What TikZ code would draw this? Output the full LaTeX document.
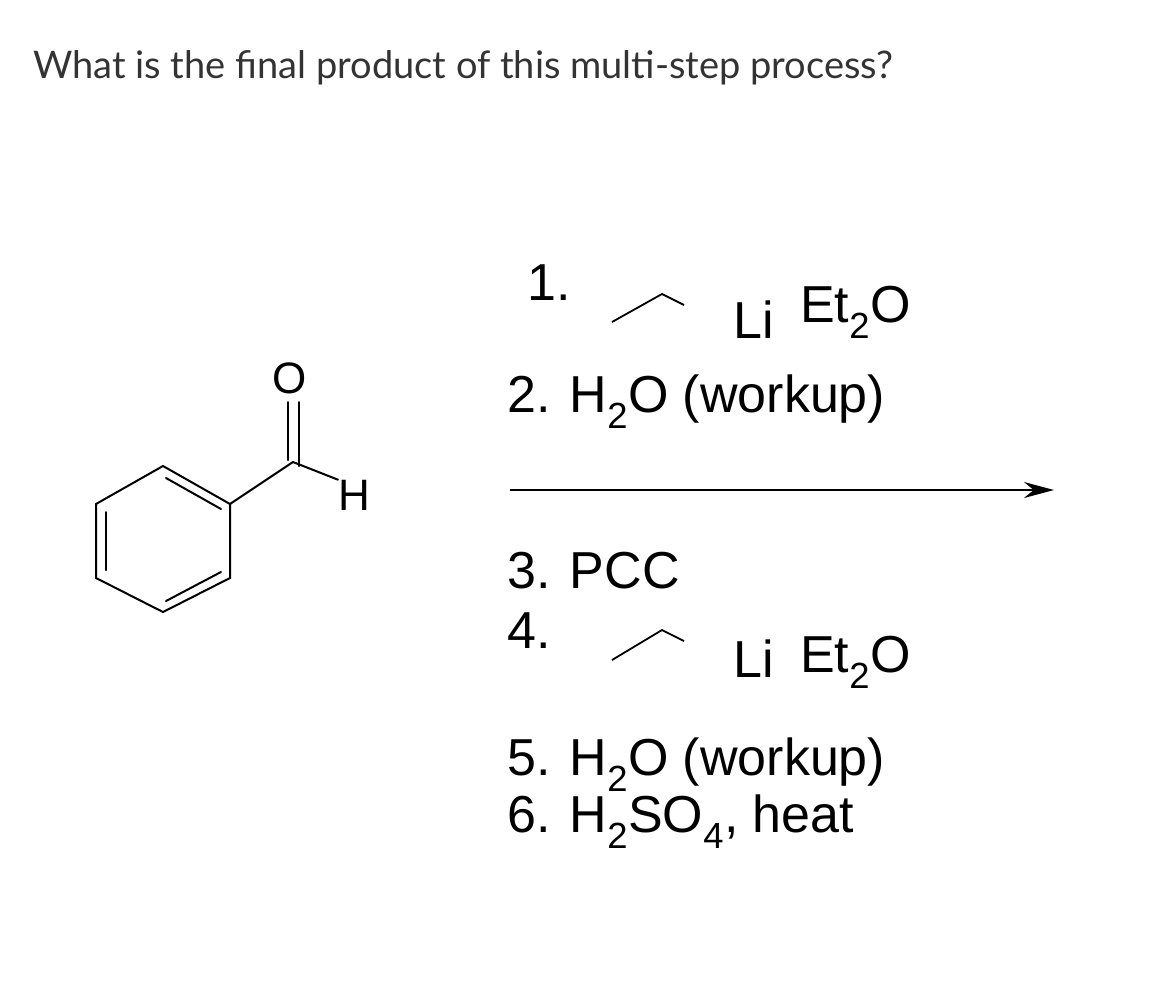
\documentclass[tikz,border=0pt]{standalone}
\usepackage{fontspec}
\setmainfont{Liberation Sans}
\newfontfamily\titlefont{Lato}
\usetikzlibrary{arrows.meta}
\begin{document}
\begin{tikzpicture}[x=1pt,y=-1pt,
  rg/.style={anchor=base west,inner sep=0pt,font=\fontsize{52}{56}\selectfont},
  bond/.style={line width=2pt,line cap=round}]
\useasboundingbox (0,0) rectangle (1154,986);
\node[anchor=base west,inner sep=0pt,font=\titlefont\fontsize{38}{44}\selectfont,text=black!80] (title) at (33,78) {What is the final product of this multi-step process?};
% benzene
\coordinate (c1) at (163,466);
\coordinate (c2) at (230,504);
\coordinate (c3) at (230,578);
\coordinate (c4) at (163,612);
\coordinate (c5) at (96,578);
\coordinate (c6) at (96,504);
\draw[bond] (c1)--(c2)--(c3)--(c4)--(c5)--(c6)--cycle;
\draw[bond] (166,478)--(221,509);
\draw[bond] (221,572)--(166,601);
\draw[bond] (106,512)--(106,570);
\coordinate (cc) at (293,462);
\draw[bond] (c2)--(cc);
\node[inner sep=0pt,font=\fontsize{44}{48}\selectfont] (O) at (290,378) {O};
\draw[bond] (288,402)--(288,460);
\draw[bond] (299,402)--(299,466);
\node[inner sep=0pt,font=\fontsize{44}{48}\selectfont] (H) at (354,495) {H};
\draw[bond] (cc)--(H.north west);
% arrow
\coordinate (a0) at (510,490);
\coordinate (a1) at (1054,490);
\draw[line width=1.8pt,-{Stealth[length=30pt,width=16pt]}] (a0)--(a1);
% reagents
\node[rg] (r1) at (527,300) {1.};
\draw[line width=1.8pt] (612,322)--(662,294)--(684,305);
\node[rg] (li1) at (733,338) {Li};
\node[rg] (et1) at (800,322) {Et\textsubscript{2}O};
\node[rg] (r2) at (507,412) {2. H\textsubscript{2}O (workup)};
\node[rg] (r3) at (507,588) {3. PCC};
\node[rg] (r4) at (507,648) {4.};
\draw[line width=1.8pt] (612,660)--(662,630)--(684,641);
\node[rg] (li2) at (733,677) {Li};
\node[rg] (et2) at (800,672) {Et\textsubscript{2}O};
\node[rg] (r5) at (507,775) {5. H\textsubscript{2}O (workup)};
\node[rg] (r6) at (507,832) {6. H\textsubscript{2}SO\textsubscript{4}, heat};
\end{tikzpicture}
\end{document}
